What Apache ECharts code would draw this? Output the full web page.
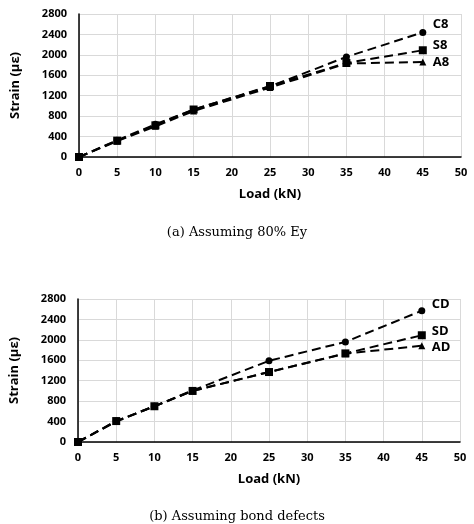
<!DOCTYPE html>
<html>
<head>
    <meta charset="UTF-8">
    <title>Load vs Strain</title>
    <script src="https://cdn.jsdelivr.net/npm/echarts/dist/echarts.min.js"></script>
    <style>
        html, body { margin: 0; padding: 0; background: #fff; }
        #chart { width: 474px; height: 524px; }
    </style>
</head>
<body>
    <div id="chart"></div>

    <script>
        // load steps (kN)
        const loads = [0, 5, 10, 15, 25, 35, 45];

        // (a) Assuming 80% Ey
        const c8 = [0, 330, 640, 930, 1380, 1960, 2440];
        const s8 = [0, 320, 620, 930, 1390, 1840, 2090];
        const a8 = [0, 310, 600, 900, 1360, 1830, 1860];

        // (b) Assuming bond defects
        const cd = [0, 410, 700, 1010, 1590, 1960, 2570];
        const sd = [0, 410, 700, 1000, 1370, 1735, 2090];
        const ad = [0, 400, 700, 1000, 1370, 1730, 1885];

        const captions = ['(a) Assuming 80% Ey', '(b) Assuming bond defects'];

        const myChart = echarts.init(document.getElementById('chart'));

        const tickFont = { color: '#000', fontWeight: 'bold', fontSize: 11, fontFamily: 'Open Sans' };
        const nameFont = { color: '#000', fontWeight: 'bold', fontSize: 13, fontFamily: 'Open Sans' };

        function pairs(ys) {
            return ys.map((y, i) => [loads[i], y]);
        }

        function xAxis(idx) {
            return {
                gridIndex: idx, type: 'value', min: 0, max: 50, interval: 5,
                name: 'Load (kN)', nameLocation: 'middle', nameGap: 31, nameTextStyle: nameFont,
                axisLine: { show: true, lineStyle: { color: '#000', width: 1.5 } },
                axisTick: { show: false },
                axisLabel: Object.assign({ margin: 10 }, tickFont),
                splitLine: { show: true, lineStyle: { color: '#d9d9d9' } }
            };
        }

        function yAxis(idx) {
            return {
                gridIndex: idx, type: 'value', min: 0, max: 2800, interval: 400,
                name: 'Strain (με)', nameLocation: 'middle', nameGap: 57, nameTextStyle: nameFont,
                axisLine: { show: true, lineStyle: { color: '#000', width: 1.5 } },
                axisTick: { show: false },
                axisLabel: Object.assign({ margin: 12, formatter: v => String(v) }, tickFont),
                splitLine: { show: true, lineStyle: { color: '#d9d9d9' } }
            };
        }

        function line(name, ys, symbol, size, idx, offset) {
            return {
                name: name, type: 'line', xAxisIndex: idx, yAxisIndex: idx,
                data: pairs(ys),
                symbol: symbol, symbolSize: size,
                itemStyle: { color: '#000' },
                lineStyle: { color: '#000', width: 2, type: [9, 5] },
                endLabel: {
                    show: true, formatter: name, distance: 10, offset: offset,
                    color: '#000', fontWeight: 'bold', fontSize: 13, fontFamily: 'Open Sans'
                },
                animation: false
            };
        }

        const option = {
            animation: false,
            grid: [
                { left: 79, right: 13, top: 14, height: 143 },
                { left: 78, right: 14, top: 299, height: 143 }
            ],
            title: [
                { text: captions[0], left: 'center', top: 221,
                  textStyle: { fontFamily: 'DejaVu Serif', fontWeight: 'normal', fontSize: 13, color: '#000' } },
                { text: captions[1], left: 'center', top: 505,
                  textStyle: { fontFamily: 'DejaVu Serif', fontWeight: 'normal', fontSize: 13, color: '#000' } }
            ],
            xAxis: [xAxis(0), xAxis(1)],
            yAxis: [yAxis(0), yAxis(1)],
            series: [
                line('C8', c8, 'circle', 7, 0, [0, -8]),
                line('S8', s8, 'rect', 8, 0, [0, -5]),
                line('A8', a8, 'triangle', 7, 0, [0, 0]),
                line('CD', cd, 'circle', 7, 1, [0, -6]),
                line('SD', sd, 'rect', 8, 1, [0, -4]),
                line('AD', ad, 'triangle', 7, 1, [0, 2])
            ]
        };

        myChart.setOption(option);
    </script>
</body>
</html>
